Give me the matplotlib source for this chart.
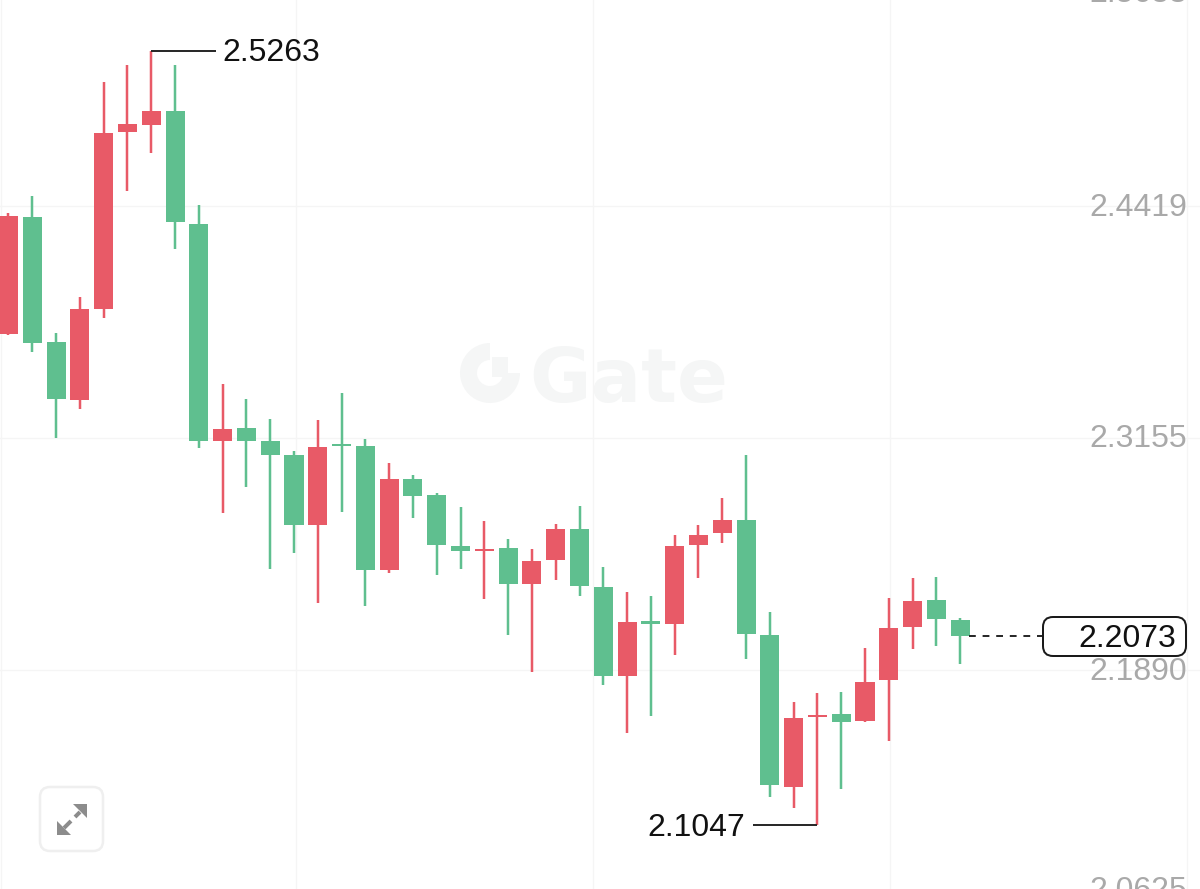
import matplotlib
matplotlib.use("Agg")
import matplotlib.pyplot as plt
from matplotlib.patches import FancyBboxPatch, Polygon, Wedge, Rectangle

plt.rcParams["font.family"] = ["Liberation Sans", "DejaVu Sans"]

# candle values, red = up, green = down
opens = [2.3724, 2.4359, 2.3678, 2.3362, 2.3858, 2.4822, 2.4860, 2.4937, 2.4321, 2.3138, 2.3209,
         2.3138, 2.3062, 2.2680, 2.3122, 2.3111, 2.2435, 2.2931, 2.2844, 2.2566, 2.2539,
         2.2555, 2.2359, 2.2490, 2.2659, 2.2342, 2.1857, 2.2157, 2.2141, 2.2571, 2.2637,
         2.2708, 2.2081, 2.1252, 2.1634, 2.1650, 2.1612, 2.1835, 2.2124, 2.2272, 2.2163]
closes = [2.4364, 2.3672, 2.3367, 2.3858, 2.4817, 2.4866, 2.4937, 2.4332, 2.3138, 2.3204, 2.3138,
          2.3062, 2.2680, 2.3105, 2.3111, 2.2435, 2.2931, 2.2838, 2.2571, 2.2539, 2.2550,
          2.2359, 2.2484, 2.2659, 2.2348, 2.1857, 2.2152, 2.2141, 2.2566, 2.2626, 2.2708,
          2.2086, 2.1263, 2.1628, 2.1645, 2.1607, 2.1825, 2.2119, 2.2266, 2.2168, 2.2073]
highs = [2.4381, 2.4474, 2.3727, 2.3923, 2.5095, 2.5188, 2.5263, 2.5188, 2.4425, 2.3449, 2.3367,
         2.3258, 2.3084, 2.3253, 2.3400, 2.3149, 2.3018, 2.2953, 2.2855, 2.2778, 2.2702,
         2.2604, 2.2550, 2.2686, 2.2784, 2.2451, 2.2315, 2.2293, 2.2626, 2.2680, 2.2827,
         2.3062, 2.2206, 2.1716, 2.1765, 2.1770, 2.2010, 2.2282, 2.2392, 2.2397, 2.2173]
lows = [2.3716, 2.3623, 2.3155, 2.3313, 2.3809, 2.4501, 2.4708, 2.4185, 2.3100, 2.2746, 2.2887,
        2.2440, 2.2528, 2.2255, 2.2751, 2.2239, 2.2419, 2.2718, 2.2408, 2.2440, 2.2277,
        2.2081, 2.1879, 2.2381, 2.2293, 2.1808, 2.1547, 2.1639, 2.1972, 2.2392, 2.2582,
        2.1950, 2.1198, 2.1138, 2.1047, 2.1241, 2.1607, 2.1503, 2.2004, 2.2021, 2.1923]

price_levels = [2.5683, 2.4419, 2.3155, 2.1890, 2.0625]
time_grid = [-0.32, 12.1, 24.57, 37.05, 49.52]
max_price = 2.5263
min_price = 2.1047
last_price = 2.2073

RED = "#E85A67"
GREEN = "#5FBF8F"
GRID = "#F5F5F5"
AXIS_TEXT = "#A9A9A9"
DARK = "#2A2A2A"
px = 0.72  # points per pixel at dpi 100

fig = plt.figure(figsize=(12, 8.89), dpi=100, facecolor="white")

# pixel overlay under the chart, for the watermark
back = fig.add_axes([0, 0, 1, 1], zorder=1)
back.set_xlim(0, 1200)
back.set_ylim(889, 0)
back.axis("off")

ax = fig.add_axes([0, 0, 1, 1], zorder=2)
ax.patch.set_alpha(0)
ax.set_xlim(-0.357, 50.08)
ax.set_ylim(2.06964, 2.55418)
ax.axis("off")

# grid
for level in price_levels:
    ax.axhline(level, color=GRID, lw=1.3 * px, zorder=1)
for t in time_grid:
    ax.axvline(t, color=GRID, lw=1.3 * px, zorder=1)

# watermark
WM = "#F5F6F6"
back.add_patch(Wedge((490, 373), 30, 0, 270, width=17, color=WM, lw=0))
back.add_patch(Rectangle((492, 357), 16, 20, color=WM, lw=0))
back.text(529, 402, "Gate", fontsize=54, fontweight="bold", family="DejaVu Sans", color=WM, ha="left", va="baseline")
back.plot([693, 713], [378, 378], color="#DADADA", lw=1.2 * px)

# candles
xs = list(range(len(opens)))
colors = [RED if c >= o else GREEN for o, c in zip(opens, closes)]
ax.vlines(xs, lows, highs, colors=colors, lw=2.5 * px, zorder=3)
bottoms = [min(o, c) for o, c in zip(opens, closes)]
heights = [abs(o - c) for o, c in zip(opens, closes)]
ax.bar(xs, heights, bottom=bottoms, width=0.8, color=colors, lw=0, zorder=4)

# price axis labels, the outer two are pushed in from the edge
offsets = [-28, -10, -9, -10, 3]
for level, dy in zip(price_levels, offsets):
    ax.annotate(f"{level:.4f}", xy=(1187 / 1200, level), xycoords=("axes fraction", "data"),
                xytext=(0, dy), textcoords="offset pixels", ha="right", va="baseline",
                fontsize=23, color=AXIS_TEXT, annotation_clip=False, zorder=5)

# highest / lowest markers
high_i = highs.index(max_price)
low_i = lows.index(min_price)
ax.annotate(f"{max_price:.4f}", xy=(high_i, max_price), xytext=(71, -10), textcoords="offset pixels",
            ha="left", va="baseline", fontsize=23, color="#111111", zorder=6)
ax.plot([high_i, high_i + 2.73], [max_price, max_price], color=DARK, lw=2 * px, zorder=6, solid_capstyle="butt")
ax.annotate(f"{min_price:.4f}", xy=(low_i, min_price), xytext=(-72, -11), textcoords="offset pixels",
            ha="right", va="baseline", fontsize=23, color="#111111", zorder=6)
ax.plot([low_i, low_i - 2.7], [min_price, min_price], color=DARK, lw=2 * px, zorder=6, solid_capstyle="butt")

# last price tag
ax.plot([xs[-1] + 0.35, 43.48], [last_price, last_price], color=DARK, lw=2 * px, dashes=(3.4, 3.4), zorder=6)
front = fig.add_axes([0, 0, 1, 1], zorder=3)
front.set_xlim(0, 1200)
front.set_ylim(889, 0)
front.axis("off")
front.add_patch(FancyBboxPatch((1051, 625), 127, 23, boxstyle="round,pad=8,rounding_size=10",
                               fc="white", ec="#1A1A1A", lw=2 * px, zorder=6))
front.annotate(f"{last_price:.4f}", xy=(1176 / 1200, last_price), xycoords=("axes fraction", ax.transData),
               xytext=(0, -11), textcoords="offset pixels", ha="right", va="baseline",
               fontsize=23, color="#111111", zorder=7, annotation_clip=False)

# expand button
front.add_patch(FancyBboxPatch((48, 795), 47, 48, boxstyle="round,pad=8,rounding_size=10",
                               fc="white", ec="#EFEFEF", lw=2.5 * px))
ICON = "#8C8C8C"
front.add_patch(Polygon([(73, 804), (87, 804), (87, 818)], color=ICON, lw=0))
front.add_patch(Polygon([(57, 821), (57, 835), (71, 835)], color=ICON, lw=0))
front.plot([75, 80], [817, 812], color=ICON, lw=4 * px, solid_capstyle="butt")
front.plot([64, 71], [828, 821], color=ICON, lw=4 * px, solid_capstyle="butt")

plt.savefig("out.png", dpi=100)
